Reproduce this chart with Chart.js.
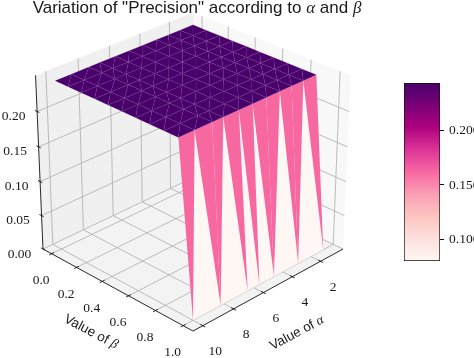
<!DOCTYPE html>
<html>
<head>
<meta charset="utf-8">
<script src="https://cdn.jsdelivr.net/npm/chart.js@4"></script>
<style>
  html, body { margin: 0; background: #fff; overflow: hidden; width: 474px; height: 358px; }
  canvas { position: absolute; display: block; filter: blur(0.3px); }
  #surface-chart { left: 0; top: 0; }
  #colorbar-chart { left: 400px; top: 70px; }
</style>
</head>
<body>
<canvas id="surface-chart" width="474" height="358"></canvas>
<canvas id="colorbar-chart" width="110" height="204"></canvas>
<script>
const alphaTicks = [2, 4, 6, 8, 10];
const betaTicks = [0, 0.2, 0.4, 0.6, 0.8, 1];
const precisionTicks = [0, 0.05, 0.1, 0.15, 0.2];
const colorbarTicks = [0.1, 0.15, 0.2];

// sampled vertices of the surface
const meshAlpha = [10, 9, 7.9, 7.2, 6.2, 5.3, 4.4, 3.5, 2.7, 1.9, 1];
const meshBeta = [0, 0.1, 0.2, 0.3, 0.4, 0.5, 0.6, 0.7, 0.8, 0.9];
const edgeAlpha = [10, 8.2, 6.4, 5.6, 4.6, 2.9, 1.1];
const edgeForCell = [0, 1, 1, 2, 3, 4, 4, 5, 5, 6];
const edgeBeta = 1;
const precisionHigh = 0.2427;
const precisionLow = 0;

const rdPu = ["#fff7f3", "#fde0dd", "#fcc5c0", "#fa9fb5", "#f768a1", "#dd3497", "#ae017e", "#7a0177", "#49006a"];
const colorMin = 0.0809;
const colorMax = 0.2427;

const alphaLim = [0.37, 10.63];
const betaLim = [-0.07, 1.07];
const precisionLim = [0, 0.25];

function cmap(value) {
  const t = Math.min(1, Math.max(0, (value - colorMin) / (colorMax - colorMin))) * (rdPu.length - 1);
  const i = Math.min(rdPu.length - 2, Math.floor(t));
  const c0 = parseInt(rdPu[i].slice(1), 16);
  const c1 = parseInt(rdPu[i + 1].slice(1), 16);
  const mix = (shift) => Math.round((c0 >> shift & 255) + ((c1 >> shift & 255) - (c0 >> shift & 255)) * (t - i));
  return `rgb(${mix(16)},${mix(8)},${mix(0)})`;
}

// same camera as a 3d axes: elev 28, azim 45, dist 10
const elev = (28 * Math.PI) / 180;
function toScreen(X, Y, Z) {
  const a = (2 * X - 1) * 0.5715;
  const b = (2 * Y - 1) * 0.5715;
  const c = (2 * Z - 1) * 0.517;
  const r = (b - a) / Math.SQRT2;
  const h = (a + b) / Math.SQRT2;
  const v = c * Math.cos(elev) - h * Math.sin(elev);
  const d = h * Math.cos(elev) + c * Math.sin(elev);
  const f = 10 / (10 - d);
  return { x: 193 + 190.1 * r * f, y: 164.3 - 190.1 * v * f };
}
const normA = (v) => (v - alphaLim[0]) / (alphaLim[1] - alphaLim[0]);
const normB = (v) => (v - betaLim[0]) / (betaLim[1] - betaLim[0]);
const normZ = (v) => (v - precisionLim[0]) / (precisionLim[1] - precisionLim[0]);
const project = (alpha, beta, z) => toScreen(normA(alpha), normB(beta), normZ(z));

const datasets = [];
function addLine(points, color, width) {
  datasets.push({
    type: "line", data: points, borderColor: color, borderWidth: width, fill: false,
    pointRadius: 0, tension: 0, order: -datasets.length,
  });
}
function addPolygon(points, color, edge, edgeWidth) {
  datasets.push({
    type: "line", data: [...points, points[0]], backgroundColor: color, borderColor: edge || color,
    borderWidth: edgeWidth || 0, fill: "shape", pointRadius: 0, tension: 0, order: -datasets.length,
  });
}

// panes
addPolygon([toScreen(0, 0, 0), toScreen(1, 0, 0), toScreen(1, 0, 1), toScreen(0, 0, 1)], "#f0f0f0");
addPolygon([toScreen(0, 0, 0), toScreen(0, 1, 0), toScreen(0, 1, 1), toScreen(0, 0, 1)], "#f8f8f8");
addPolygon([toScreen(0, 0, 0), toScreen(1, 0, 0), toScreen(1, 1, 0), toScreen(0, 1, 0)], "#f3f3f3");

// grid
const gridColor = "#b4b4b4";
alphaTicks.forEach((v) => {
  addLine([toScreen(normA(v), 1, 0), toScreen(normA(v), 0, 0), toScreen(normA(v), 0, 1)], gridColor, 0.9);
});
betaTicks.forEach((v) => {
  addLine([toScreen(1, normB(v), 0), toScreen(0, normB(v), 0), toScreen(0, normB(v), 1)], gridColor, 0.9);
});
precisionTicks.forEach((v) => {
  addLine([toScreen(1, 0, normZ(v)), toScreen(0, 0, normZ(v)), toScreen(0, 1, normZ(v))], gridColor, 0.9);
});

// axis lines and ticks
const axisColor = "#111";
addLine([toScreen(1, 0, 0), toScreen(1, 0, 1)], axisColor, 0.9);
addLine([toScreen(1, 0, 0), toScreen(1, 1, 0)], axisColor, 0.9);
addLine([toScreen(1, 1, 0), toScreen(0, 1, 0)], axisColor, 0.9);
alphaTicks.forEach((v) => addLine([toScreen(normA(v), 0.985, 0), toScreen(normA(v), 1.015, 0)], axisColor, 0.9));
betaTicks.forEach((v) => addLine([toScreen(0.985, normB(v), 0), toScreen(1.015, normB(v), 0)], axisColor, 0.9));
precisionTicks.forEach((v) => addLine([toScreen(1, -0.015, normZ(v)), toScreen(1, 0.015, normZ(v))], axisColor, 0.9));

// the drop between the last row and beta = 1
const lastBeta = meshBeta[meshBeta.length - 1];
const pink = cmap((2 * precisionHigh + precisionLow) / 3);
const cream = cmap((precisionHigh + 2 * precisionLow) / 3);
edgeForCell.forEach((edge, i) => {
  const next = edgeForCell[i + 1];
  if (next !== undefined && next !== edge) {
    addPolygon([
      project(edgeAlpha[edge], edgeBeta, precisionLow),
      project(edgeAlpha[next], edgeBeta, precisionLow),
      project(meshAlpha[i + 1], lastBeta, precisionHigh),
    ], cream);
  }
});
edgeForCell.forEach((edge, i) => {
  addPolygon([
    project(meshAlpha[i], lastBeta, precisionHigh),
    project(meshAlpha[i + 1], lastBeta, precisionHigh),
    project(edgeAlpha[edge], edgeBeta, precisionLow),
  ], pink);
});

// plateau
const plateau = cmap(precisionHigh);
const meshEdge = "rgba(135,85,170,0.22)";
for (let i = 0; i < meshAlpha.length - 1; i++) {
  for (let j = 0; j < meshBeta.length - 1; j++) {
    const hiHi = project(meshAlpha[i], meshBeta[j + 1], precisionHigh);
    const loLo = project(meshAlpha[i + 1], meshBeta[j], precisionHigh);
    addPolygon([hiHi, loLo, project(meshAlpha[i], meshBeta[j], precisionHigh)], plateau, meshEdge, 0.6);
    addPolygon([hiHi, loLo, project(meshAlpha[i + 1], meshBeta[j + 1], precisionHigh)], plateau, meshEdge, 0.6);
  }
}

const sansFont = '"Liberation Sans", sans-serif';
const serifFont = '"Liberation Serif", serif';

function drawRuns(ctx, runs, x, y, angle) {
  ctx.save();
  ctx.translate(x, y);
  ctx.rotate((angle * Math.PI) / 180);
  ctx.textBaseline = "middle";
  ctx.textAlign = "left";
  let total = 0;
  runs.forEach((run) => {
    ctx.font = run.font;
    total += ctx.measureText(run.text).width;
  });
  let cursor = -total / 2;
  runs.forEach((run) => {
    ctx.font = run.font;
    ctx.fillStyle = run.color || "#1a1a1a";
    ctx.fillText(run.text, cursor, 0);
    cursor += ctx.measureText(run.text).width;
  });
  ctx.restore();
}

const labelsPlugin = {
  id: "labels3d",
  afterDatasetsDraw(chart) {
    const { ctx, scales } = chart;
    const at = (p) => ({ x: scales.x.getPixelForValue(p.x), y: scales.y.getPixelForValue(p.y) });
    const tickFont = `13.5px ${serifFont}`;
    const sans = (size) => `${size}px ${sansFont}`;
    const math = (size) => `italic ${size}px ${serifFont}`;

    alphaTicks.forEach((v) => {
      const p = at(toScreen(normA(v), 1, 0));
      drawRuns(ctx, [{ text: String(v), font: tickFont }], p.x + 12.5, p.y + 26, 0);
    });
    betaTicks.forEach((v) => {
      const p = at(toScreen(1, normB(v), 0));
      drawRuns(ctx, [{ text: v.toFixed(1), font: tickFont }], p.x - 10.5, p.y + 27, 0);
    });
    precisionTicks.forEach((v) => {
      const p = at(toScreen(1, 0, normZ(v)));
      drawRuns(ctx, [{ text: v.toFixed(2), font: tickFont }], p.x - 23.5, p.y + 5, 0);
    });

    drawRuns(ctx, [
      { text: 'Variation of "Precision" according to ', font: sans(17) },
      { text: "α", font: math(17) },
      { text: " and ", font: sans(17) },
      { text: "β", font: math(17) },
    ], 197, 8.5, 0);
    drawRuns(ctx, [{ text: "Value of ", font: sans(13.5) }, { text: "β", font: math(13.5) }], 91, 332, 28);
    drawRuns(ctx, [{ text: "Value of ", font: sans(13.5) }, { text: "α", font: math(13.5) }], 297, 333, -28);
  },
};

new Chart(document.getElementById("surface-chart"), {
  type: "line",
  data: { datasets },
  plugins: [labelsPlugin],
  options: {
    responsive: false,
    animation: false,
    events: [],
    layout: { padding: 0 },
    plugins: { legend: { display: false }, tooltip: { enabled: false } },
    scales: {
      x: { type: "linear", display: false, min: 0, max: 474 },
      y: { type: "linear", display: false, min: 0, max: 358, reverse: true },
    },
  },
});

new Chart(document.getElementById("colorbar-chart"), {
  type: "bar",
  data: {
    labels: ["precision"],
    datasets: [{
      data: [[colorMin, colorMax]],
      barPercentage: 1,
      categoryPercentage: 1,
      borderColor: "#111",
      borderWidth: 1,
      borderSkipped: false,
      backgroundColor(context) {
        const area = context.chart.chartArea;
        if (!area) return rdPu[4];
        const gradient = context.chart.ctx.createLinearGradient(0, area.bottom, 0, area.top);
        rdPu.forEach((color, i) => gradient.addColorStop(i / (rdPu.length - 1), color));
        return gradient;
      },
    }],
  },
  options: {
    responsive: false,
    animation: false,
    events: [],
    layout: { padding: { left: 4, top: 12, bottom: 5 } },
    plugins: { legend: { display: false }, tooltip: { enabled: false } },
    scales: {
      x: { display: false },
      y: {
        position: "right",
        min: colorMin,
        max: colorMax,
        afterBuildTicks(scale) {
          scale.ticks = colorbarTicks.map((value) => ({ value }));
        },
        afterFit(scale) {
          scale.width = 70;
        },
        border: { display: false },
        grid: { drawOnChartArea: false, tickLength: 4, tickColor: "#111" },
        ticks: {
          autoSkip: false,
          padding: 5,
          color: "#1a1a1a",
          font: { family: "Liberation Serif", size: 13.5 },
          callback: (value) => value.toFixed(3),
        },
      },
    },
  },
});
</script>
</body>
</html>
